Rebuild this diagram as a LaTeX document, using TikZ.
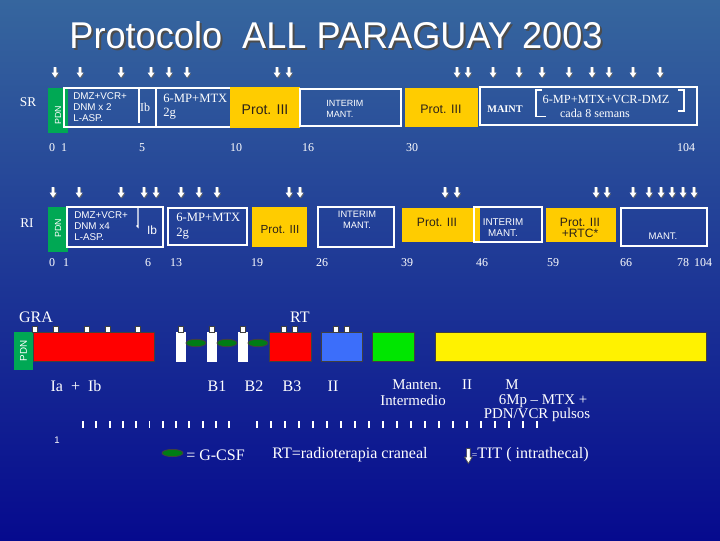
\documentclass[tikz,border=0pt]{standalone}
\usepackage{fontspec}
\setmainfont{Liberation Serif}
\setsansfont{Liberation Sans}
\usepackage{xcolor}

\definecolor{bgtop}{RGB}{54,102,158}
\definecolor{bgmid}{RGB}{40,80,158}
\definecolor{bgbot}{RGB}{6,10,142}
\definecolor{protyel}{RGB}{255,204,0}
\definecolor{pdngreen}{RGB}{0,168,84}
\definecolor{gcsfgreen}{RGB}{0,125,20}
\definecolor{iiblue}{RGB}{60,110,250}
\definecolor{mantgreen}{RGB}{0,230,0}
\definecolor{protink}{RGB}{45,35,25}

\tikzset{
  wbox/.style={draw=white, line width=1.4pt},
  pbox/.style={fill=protyel},
  pdnbox/.style={fill=pdngreen},
  blk/.style={draw=black!75, line width=0.6pt},
  sml/.style={text=white, font=\sffamily\fontsize{7}{7.8}\selectfont, align=left, inner sep=0pt},
  srf/.style={text=white, font=\fontsize{8.5}{10}\selectfont, align=left, inner sep=0pt},
  prt/.style={text=protink, font=\sffamily\fontsize{#1}{#1}\selectfont, align=center, inner sep=0pt},
  prt/.default=8.3,
  num/.style={text=white, font=\fontsize{8.5}{8.5}\selectfont, inner sep=0pt},
  pdnlbl/.style={text=white, font=\sffamily\fontsize{6.3}{6.3}\selectfont, rotate=90, inner sep=0pt},
  big/.style={text=white, font=\fontsize{11.4}{11.4}\selectfont, inner sep=0pt},
  bigm/.style={text=white, font=\fontsize{10.6}{10.6}\selectfont, inner sep=0pt},
  darr/.pic={
    \fill[black!60] (-0.5,1) -- (2.1,1) -- (2.1,6.5) -- (4.3,6.5) -- (0.8,11.5) -- (-2.7,6.5) -- (-0.5,6.5) -- cycle;
    \fill[white] (-1.3,0) -- (1.3,0) -- (1.3,5.5) -- (3.5,5.5) -- (0,10.5) -- (-3.5,5.5) -- (-1.3,5.5) -- cycle;
  }
}

\begin{document}
\begin{tikzpicture}[x=0.025cm,y=-0.025cm]
    \useasboundingbox (0,0) rectangle (720,540);
    \shade[top color=bgtop, middle color=bgmid, bottom color=bgbot] (0,0) rectangle (720,540);
    % title
    \node[text=black!70, font=\sffamily\fontsize{26.5}{26.5}\selectfont, xscale=0.97] at (338,37) {Protocolo\ \ ALL PARAGUAY 2003};
    \node (title) [text=white, font=\sffamily\fontsize{26.5}{26.5}\selectfont, xscale=0.97] at (336,35) {Protocolo\ \ ALL PARAGUAY 2003};

    % SR row
    \foreach \x in {55,80,121,151,169,187,277,289,457,468,493,519,542,569,592,609,633,660}{
    \pic at (\x,67) {darr};
    }
    \node (sr) [srf, font=\fontsize{9.5}{9.5}\selectfont] at (28,102) {SR};
    \fill[pdnbox] (48,88) rectangle (68,133);
    \node (srpdn) [pdnlbl] at (58,115) {PDN};
    \draw[wbox] (64,88) rectangle (156,127);
    \draw[white, line width=0.8pt] (139,88) -- (139,123);
    \node (srind) [sml, anchor=west] at (73,107.5) {DMZ+VCR+\\DNM x 2\\L-ASP.};
    \node (srib) [srf] at (145,107) {Ib};
    \draw[wbox] (156,88) rectangle (233,127);
    \node (srmp) [srf, anchor=west, font=\fontsize{9}{10}\selectfont] at (163,106.5) {6-MP+MTX\\2g};
    \fill[pbox] (230,87) rectangle (300,128);
    \node (srp1) [prt=10] at (265,110) {Prot. III};
    \draw[wbox] (300,89) rectangle (401,126);
    \node (srint) [sml, anchor=west, font=\sffamily\fontsize{6.4}{7.8}\selectfont] at (326,109) {INTERIM\\MANT.};
    \fill[pbox] (405,88) rectangle (478,127);
    \node (srp2) [prt=8.8] at (441,109) {Prot. III};
    \draw[wbox] (480,87) rectangle (697,125);
    \node (srmaint) [srf, font=\bfseries\fontsize{7.3}{7.3}\selectfont] at (505,109) {MAINT};
    \draw[white, line width=1.3pt] (541.5,90) -- (535.7,90) -- (535.7,116.5) -- (546,116.5);
    \draw[white, line width=1.3pt] (678,90) -- (683.8,90) -- (683.8,111) -- (678,111);
    \node (srmx) [srf, font=\fontsize{8.8}{8.8}\selectfont] at (606,99) {6-MP+MTX+VCR-DMZ};
    \node (srcada) [srf, font=\fontsize{8.6}{8.6}\selectfont] at (595,113.5) {cada 8 semans};
    \foreach \x/\t in {52/0,64/1,142/5,236/10,308/16,412/30,686/104}{
    \node (sw\t) [num] at (\x,148) {\t};
    }

    % RI row
    \foreach \x in {53,79,121,144,156,181,199,217,289,300,445,457,596,607,633,649,661,672,683,694}{
    \pic at (\x,187) {darr};
    }
    \node (ri) [srf, font=\fontsize{9.5}{9.5}\selectfont] at (27,223) {RI};
    \fill[pdnbox] (48,207) rectangle (68,252);
    \node (ripdn) [pdnlbl] at (58,228) {PDN};
    \draw[wbox] (67,207) rectangle (163,247);
    \draw[white, line width=0.8pt] (138,207) -- (138,227) arc (0:-90:1.5);
    \node (riind) [sml, anchor=west] at (74,226) {DMZ+VCR+\\DNM x4\\L-ASP.};
    \node (riib) [sml, font=\sffamily\fontsize{8.5}{8.5}\selectfont] at (152,230) {Ib};
    \draw[wbox] (168,208) rectangle (247,245);
    \node (rimp) [srf, anchor=west, font=\fontsize{9}{10.5}\selectfont] at (176,226) {6-MP+MTX\\2g};
    \fill[pbox] (252,207) rectangle (307,247);
    \node (rip1) [prt] at (280,230) {Prot. III};
    \draw[wbox] (318,207) rectangle (394,247);
    \node (riint) [sml, align=center, font=\sffamily\fontsize{6.6}{8}\selectfont] at (357,220) {INTERIM\\MANT.};
    \fill[pbox] (402,208) rectangle (480,242);
    \node (rip2) [prt=8.6] at (437,222) {Prot. III};
    \draw[wbox] (474,207) rectangle (542,242);
    \node (riint2) [sml, align=center, font=\sffamily\fontsize{7}{8}\selectfont] at (503,227.5) {INTERIM\\MANT.};
    \fill[pbox] (546,208) rectangle (616,242);
    \node (rip3) [prt=8.6, font=\sffamily\fontsize{8.6}{7.8}\selectfont] at (580,227.5) {Prot. III\\+RTC*};
    \draw[wbox] (621,208) rectangle (707,246);
    \node (rimant) [sml, font=\sffamily\fontsize{6.8}{6.8}\selectfont] at (663,236) {MANT.};
    \foreach \x/\t in {52/0,66/1,148/6,176/13,257/19,322/26,407/39,482/46,553/59,626/66,683/78,703/104}{
    \node (rw\t) [num] at (\x,263) {\t};
    }

    % scheme
    \node (gra) [big] at (36,317) {GRA};
    \node (rt) [big] at (300,317) {RT};
    \fill[pdnbox] (14,332) rectangle (33,370);
    \node (gpdn) [pdnlbl, font=\sffamily\fontsize{7}{7}\selectfont] at (23.5,351) {PDN};
    \filldraw[blk, fill=red] (33,332) rectangle (154,361);
    \foreach \x in {176,207,238}{
    \filldraw[blk, fill=white, draw=white] (\x,332) rectangle (\x+9,361);
    }
    \filldraw[blk, fill=red] (269,332) rectangle (311,361);
    \filldraw[blk, fill=iiblue] (321,332) rectangle (362,361);
    \filldraw[blk, fill=mantgreen] (372,332) rectangle (414,361);
    \filldraw[blk, fill=yellow] (435,332) rectangle (706,361);
    \foreach \x in {35,56,87,108,138,180.5,211.5,242.5,284,295,336,347}{
    \filldraw[blk, fill=white, line width=0.4pt] (\x-2.3,326) rectangle (\x+2.3,332);
    }
    \foreach \x in {196,227,258}{
    \filldraw[blk, fill=gcsfgreen] (\x,343) ellipse (10 and 3.7);
    }
    \node (iaib) [big] at (76,386) {Ia\ \ +\ \ Ib};
    \foreach \x/\t in {217/B1,254/B2,292/B3,333/II}{
    \node (l\t) [big] at (\x,386) {\t};
    }
    \node (manten) [bigm] at (417,384.5) {Manten.};
    \node (interm) [bigm] at (413,400) {Intermedio};
    \node (ii2) [bigm] at (467,384.5) {II};
    \node (mm) [bigm] at (512,384.5) {M};
    \node (mpmtx) [bigm] at (543,401) {6Mp -- MTX +};
    \node (pulsos) [bigm] at (537,415) {PDN/VCR pulsos};
    \foreach \k in {0,...,11}{
    \draw[white, line width=1.4pt] ({83+13.3*\k},421) -- ++(0,7);
    }
    \foreach \k in {0,...,20}{
    \draw[white, line width=1.4pt] ({257+14*\k},421) -- ++(0,7);
    }
    \node (one) [sml, font=\sffamily\fontsize{6.8}{6.8}\selectfont] at (57,440) {1};

    % legend
    \filldraw[blk, fill=gcsfgreen] (172.5,453) ellipse (10.5 and 3.6);
    \node (gcsf) [big, anchor=west] at (186,455) {= G-CSF};
    \node (rtleg) [big, anchor=west] at (272,455) {RT=radioterapia craneal};
    \filldraw[fill=white, draw=black!70, line width=0.5pt] (466.6,448.5) -- (470.2,448.5) -- (470.2,457) -- (472.3,457) -- (468.4,463.5) -- (464.5,457) -- (466.6,457) -- cycle;
    \node (tit) [big, anchor=west] at (471.5,455) {{\fontsize{7}{7}\selectfont=}TIT ( intrathecal)};
\end{tikzpicture}
\end{document}
